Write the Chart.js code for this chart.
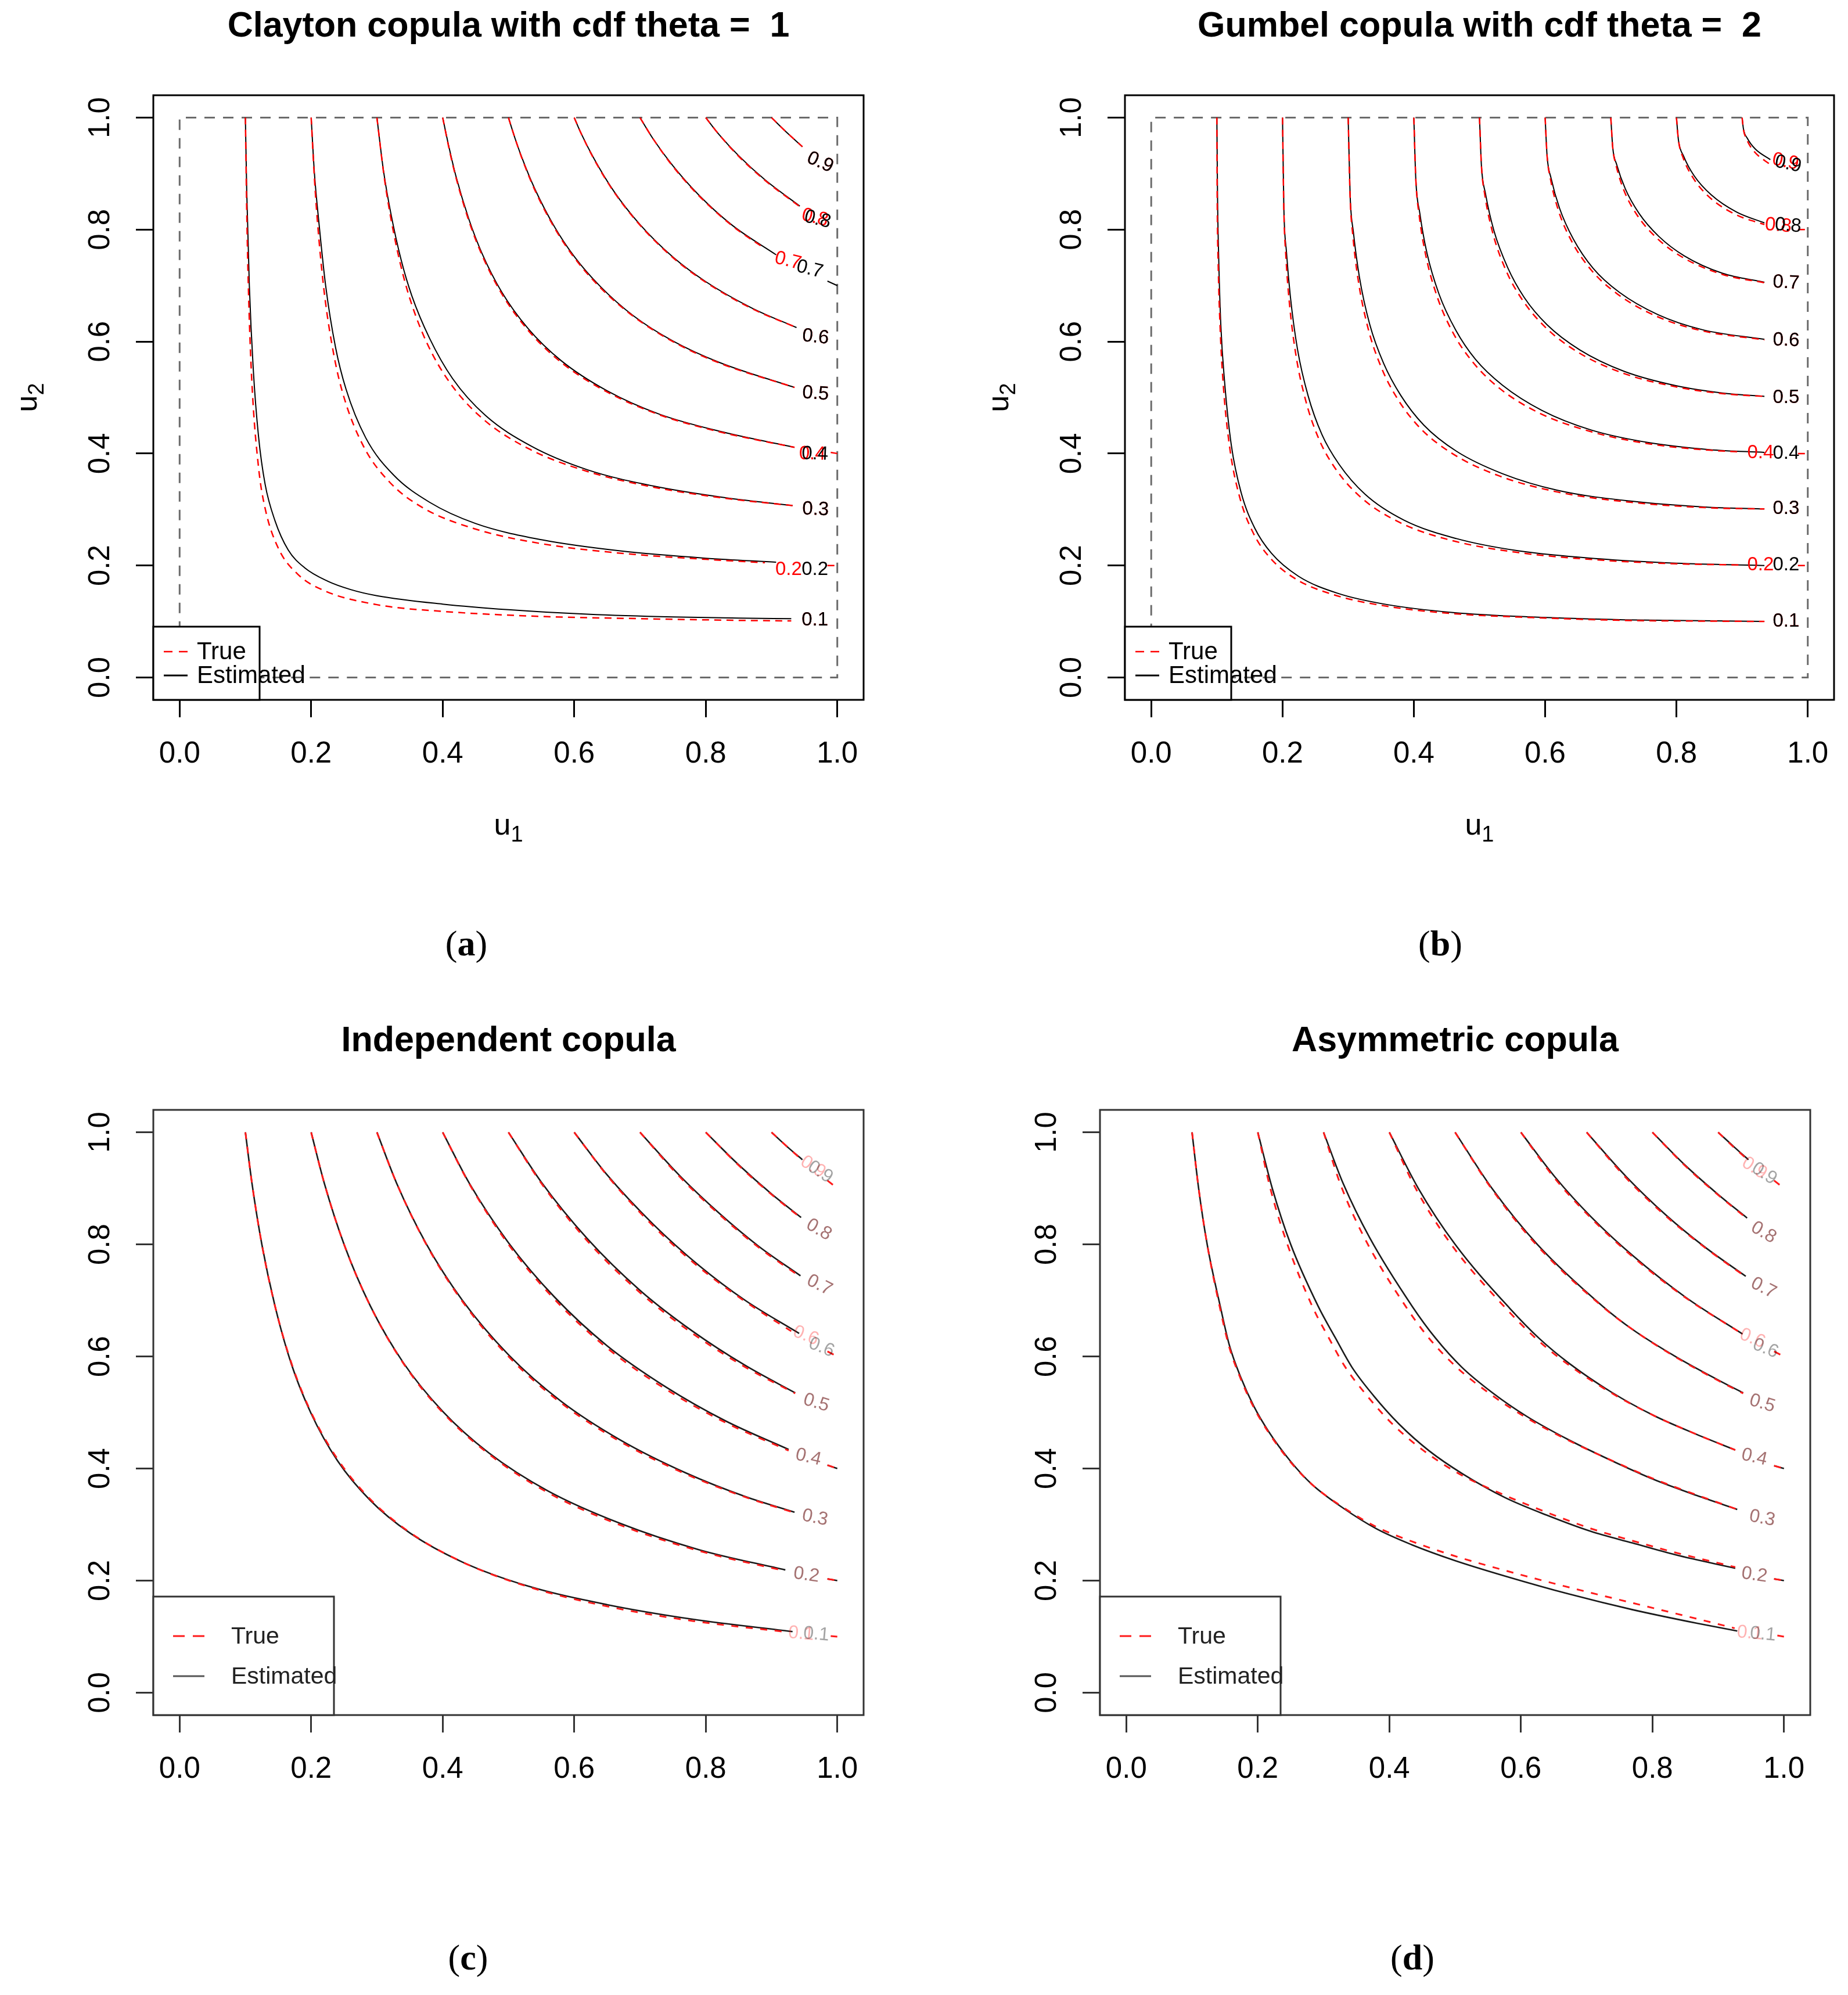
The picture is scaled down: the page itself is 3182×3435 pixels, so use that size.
<!DOCTYPE html>
<html><head><meta charset="utf-8">
<script src="https://cdn.jsdelivr.net/npm/chart.js@4.4.1/dist/chart.umd.min.js"></script>
<style>
html,body{margin:0;padding:0;background:#fff;}
body{width:3182px;height:3435px;position:relative;overflow:hidden;}
canvas{position:absolute;}
.cap{position:absolute;font-family:"Liberation Serif","DejaVu Serif",serif;font-size:62px;color:#000;transform:translate(-50%,-50%);white-space:nowrap;}
</style></head><body>
<canvas id="ca"></canvas><canvas id="cb"></canvas><canvas id="cc"></canvas><canvas id="cd"></canvas>
<div class="cap" style="left:803px;top:1624px">(<b>a</b>)</div>
<div class="cap" style="left:2480px;top:1624px">(<b>b</b>)</div>
<div class="cap" style="left:806px;top:3370px">(<b>c</b>)</div>
<div class="cap" style="left:2432px;top:3370px">(<b>d</b>)</div>
<script>
// ---------- data ----------
const levels = ['0.1','0.2','0.3','0.4','0.5','0.6','0.7','0.8','0.9'];
const xTickVals = [0,0.2,0.4,0.6,0.8,1.0];
const xTickLabels = ['0.0','0.2','0.4','0.6','0.8','1.0'];
const yTickVals = [0,0.2,0.4,0.6,0.8,1.0];
const yTickLabels = ['0.0','0.2','0.4','0.6','0.8','1.0'];
const unitSquare = [[0,0],[1,0],[1,1],[0,1],[0,0]];

// (a) Clayton copula, theta = 1
const clayTrue = [
 [[0.1,1],[0.102,0.836],[0.105,0.677],[0.11,0.524],[0.12,0.375],[0.13,0.302],[0.15,0.231],[0.18,0.184],[0.22,0.155],[0.3,0.13],[0.4,0.118],[0.55,0.109],[0.7,0.105],[0.85,0.102],[0.93,0.101]],
 [[0.2,1],[0.205,0.891],[0.21,0.808],[0.22,0.687],[0.235,0.573],[0.25,0.5],[0.28,0.412],[0.32,0.348],[0.37,0.303],[0.45,0.265],[0.55,0.239],[0.67,0.222],[0.8,0.211],[0.89,0.205],null,[0.985,0.2],[1,0.2]],
 [[0.3,1],[0.31,0.903],[0.32,0.828],[0.335,0.742],[0.35,0.677],[0.375,0.6],[0.41,0.528],[0.46,0.463],[0.53,0.409],[0.62,0.368],[0.72,0.34],[0.83,0.32],[0.932,0.307]],
 [[0.4,1],[0.41,0.943],[0.42,0.894],[0.44,0.815],[0.46,0.754],[0.49,0.685],[0.53,0.62],[0.58,0.563],[0.65,0.51],[0.73,0.469],[0.82,0.439],[0.935,0.411],null,[0.99,0.402],[1,0.4]],
 [[0.5,1],[0.51,0.963],[0.52,0.929],[0.54,0.871],[0.57,0.803],[0.6,0.75],[0.64,0.696],[0.69,0.645],[0.75,0.6],[0.82,0.562],[0.935,0.518]],
 [[0.6,1],[0.61,0.973],[0.63,0.926],[0.66,0.868],[0.7,0.808],[0.75,0.75],[0.8,0.706],[0.87,0.659],[0.938,0.625]],
 [[0.7,1],[0.72,0.962],[0.75,0.913],[0.79,0.86],[0.84,0.807],[0.89,0.766]],
 [[0.8,1],[0.82,0.97],[0.85,0.931],[0.89,0.888],[0.943,0.841]],
 [[0.9,1],[0.92,0.977],[0.947,0.948]]
];
const clayEst = [
 [[0.1,1],[0.102,0.87],[0.106,0.7],[0.112,0.55],[0.12,0.43],[0.13,0.345],[0.145,0.28],[0.165,0.228],[0.19,0.196],[0.225,0.172],[0.26,0.157],[0.3,0.146],[0.4,0.131],[0.5,0.121],[0.62,0.113],[0.75,0.108],[0.85,0.106],[0.93,0.105]],
 [[0.2,1],[0.205,0.9],[0.212,0.81],[0.222,0.7],[0.237,0.59],[0.253,0.515],[0.283,0.428],[0.325,0.362],[0.38,0.313],[0.45,0.275],[0.55,0.246],[0.67,0.226],[0.8,0.213],[0.907,0.206]],
 [[0.3,1],[0.31,0.905],[0.321,0.83],[0.337,0.745],[0.353,0.682],[0.38,0.606],[0.415,0.534],[0.465,0.468],[0.535,0.413],[0.62,0.371],[0.72,0.342],[0.83,0.321],[0.932,0.307]],
 [[0.4,1],[0.41,0.945],[0.42,0.896],[0.44,0.818],[0.46,0.757],[0.49,0.688],[0.53,0.623],[0.58,0.566],[0.65,0.512],[0.73,0.47],[0.82,0.44],[0.935,0.411]],
 [[0.5,1],[0.51,0.963],[0.52,0.93],[0.54,0.873],[0.57,0.805],[0.6,0.752],[0.64,0.698],[0.69,0.646],[0.75,0.601],[0.82,0.563],[0.935,0.518]],
 [[0.6,1],[0.61,0.973],[0.63,0.927],[0.66,0.869],[0.7,0.809],[0.75,0.751],[0.8,0.707],[0.87,0.66],[0.938,0.625]],
 [[0.7,1],[0.72,0.962],[0.75,0.914],[0.79,0.861],[0.84,0.808],[0.907,0.755],null,[0.985,0.708],[1,0.7]],
 [[0.8,1],[0.82,0.97],[0.85,0.932],[0.89,0.889],[0.943,0.842]],
 [[0.9,1],[0.92,0.977],[0.947,0.948]]
];
const clayLabEst  = [[0.966,0.102],[0.966,0.193],[0.967,0.3],[0.966,0.399],[0.967,0.507],[0.967,0.608],[0.958,0.729],[0.97,0.818],[0.974,0.92]];
const clayLabTrue = [[0.966,0.102],[0.926,0.193],[0.967,0.3],[0.962,0.399],[0.967,0.507],[0.967,0.608],[0.925,0.744],[0.966,0.821],[0.974,0.92]];

// (b) Gumbel copula, theta = 2
const gumTrue = [
 [[0.1,1],[0.1005,0.86],[0.102,0.74],[0.105,0.624],[0.11,0.519],[0.12,0.407],[0.135,0.321],[0.155,0.259],[0.18,0.215],[0.22,0.176],[0.28,0.147],[0.36,0.127],[0.46,0.114],[0.58,0.107],[0.72,0.102],[0.86,0.1005],[0.934,0.1]],
 [[0.2,1],[0.202,0.836],[0.205,0.755],[0.21,0.675],[0.22,0.579],[0.235,0.496],[0.255,0.427],[0.28,0.374],[0.32,0.321],[0.38,0.276],[0.46,0.244],[0.56,0.223],[0.68,0.21],[0.8,0.203],[0.895,0.201],null,[0.985,0.2],[1,0.2]],
 [[0.3,1],[0.303,0.857],[0.307,0.791],[0.315,0.712],[0.33,0.625],[0.35,0.555],[0.375,0.498],[0.41,0.445],[0.46,0.399],[0.53,0.36],[0.62,0.331],[0.73,0.313],[0.85,0.303],[0.934,0.301]],
 [[0.4,1],[0.403,0.89],[0.408,0.827],[0.418,0.755],[0.435,0.682],[0.46,0.615],[0.49,0.563],[0.53,0.517],[0.59,0.473],[0.67,0.439],[0.76,0.417],[0.85,0.406],[0.895,0.403],null,[0.985,0.4],[1,0.4]],
 [[0.5,1],[0.503,0.913],[0.508,0.863],[0.52,0.795],[0.54,0.728],[0.565,0.675],[0.6,0.626],[0.65,0.581],[0.72,0.543],[0.8,0.519],[0.87,0.507],[0.934,0.502]],
 [[0.6,1],[0.603,0.931],[0.608,0.891],[0.62,0.835],[0.64,0.78],[0.67,0.728],[0.71,0.685],[0.77,0.645],[0.84,0.619],[0.934,0.603]],
 [[0.7,1],[0.703,0.946],[0.708,0.915],[0.72,0.87],[0.74,0.826],[0.77,0.785],[0.81,0.75],[0.87,0.72],[0.934,0.705]],
 [[0.8,1],[0.803,0.96],[0.81,0.929],[0.825,0.893],[0.85,0.858],[0.89,0.827],[0.934,0.809],null,[0.985,0.8],[1,0.8]],
 [[0.9,1],[0.902,0.979],[0.907,0.961],[0.918,0.94],[0.943,0.916]]
];
const gumEst = [
 [[0.1,1],[0.101,0.86],[0.103,0.74],[0.106,0.63],[0.112,0.525],[0.122,0.415],[0.137,0.33],[0.158,0.266],[0.183,0.222],[0.224,0.181],[0.285,0.15],[0.36,0.13],[0.46,0.116],[0.58,0.108],[0.72,0.103],[0.86,0.101],[0.934,0.1]],
 [[0.2,1],[0.202,0.84],[0.206,0.76],[0.212,0.68],[0.223,0.585],[0.239,0.503],[0.26,0.434],[0.286,0.381],[0.326,0.327],[0.385,0.281],[0.465,0.248],[0.56,0.226],[0.68,0.212],[0.8,0.204],[0.934,0.2]],
 [[0.3,1],[0.303,0.86],[0.308,0.795],[0.317,0.716],[0.333,0.63],[0.354,0.561],[0.38,0.504],[0.415,0.451],[0.465,0.404],[0.535,0.364],[0.62,0.334],[0.73,0.315],[0.85,0.304],[0.934,0.301]],
 [[0.4,1],[0.403,0.89],[0.409,0.83],[0.42,0.758],[0.438,0.686],[0.464,0.62],[0.494,0.568],[0.535,0.522],[0.595,0.477],[0.67,0.442],[0.76,0.419],[0.85,0.407],[0.934,0.402]],
 [[0.5,1],[0.503,0.913],[0.509,0.865],[0.522,0.798],[0.543,0.732],[0.568,0.679],[0.603,0.63],[0.653,0.585],[0.72,0.547],[0.8,0.521],[0.87,0.508],[0.934,0.502]],
 [[0.6,1],[0.603,0.931],[0.609,0.892],[0.622,0.838],[0.643,0.783],[0.673,0.731],[0.713,0.688],[0.772,0.648],[0.84,0.621],[0.934,0.604]],
 [[0.7,1],[0.703,0.946],[0.709,0.916],[0.722,0.873],[0.743,0.829],[0.773,0.788],[0.812,0.753],[0.87,0.722],[0.934,0.706]],
 [[0.8,1],[0.803,0.96],[0.811,0.931],[0.827,0.896],[0.853,0.862],[0.892,0.831],[0.934,0.812]],
 [[0.9,1],[0.902,0.98],[0.908,0.963],[0.92,0.944],[0.943,0.925]]
];
const gumLabEst  = [[0.967,0.1],[0.967,0.201],[0.967,0.301],[0.967,0.4],[0.967,0.5],[0.967,0.602],[0.967,0.705],[0.97,0.807],[0.97,0.917]];
const gumLabTrue = [[0.967,0.1],[0.928,0.201],[0.967,0.301],[0.928,0.401],[0.967,0.5],[0.967,0.602],[0.967,0.705],[0.955,0.807],[0.966,0.921]];

// (c) Independent copula
const indTrue = [
 [[0.1,1],[0.11,0.909],[0.125,0.8],[0.145,0.69],[0.17,0.588],[0.2,0.5],[0.24,0.417],[0.29,0.345],[0.35,0.286],[0.43,0.233],[0.53,0.189],[0.65,0.154],[0.78,0.128],[0.925,0.108],null,[0.99,0.101],[1,0.1]],
 [[0.2,1],[0.22,0.909],[0.25,0.8],[0.29,0.69],[0.34,0.588],[0.4,0.5],[0.47,0.426],[0.56,0.357],[0.67,0.299],[0.79,0.253],[0.921,0.217],null,[0.985,0.203],[1,0.2]],
 [[0.3,1],[0.33,0.909],[0.375,0.8],[0.43,0.698],[0.5,0.6],[0.58,0.517],[0.67,0.448],[0.77,0.39],[0.86,0.349],[0.935,0.321]],
 [[0.4,1],[0.44,0.909],[0.5,0.8],[0.57,0.702],[0.65,0.615],[0.74,0.541],[0.83,0.482],[0.926,0.432],null,[0.985,0.406],[1,0.4]],
 [[0.5,1],[0.55,0.909],[0.62,0.806],[0.7,0.714],[0.78,0.641],[0.86,0.581],[0.936,0.534]],
 [[0.6,1],[0.65,0.923],[0.72,0.833],[0.79,0.759],[0.86,0.698],[0.93,0.645],null,[0.985,0.609],[1,0.6]],
 [[0.7,1],[0.76,0.921],[0.82,0.854],[0.88,0.795],[0.944,0.742]],
 [[0.8,1],[0.85,0.941],[0.9,0.889],[0.945,0.847]],
 [[0.9,1],[0.925,0.973],[0.945,0.952],null,[0.985,0.914],[1,0.9]]
];
const indEst = [
 [[0.1,1],[0.11,0.909],[0.125,0.8],[0.145,0.69],[0.17,0.586],[0.2,0.498],[0.24,0.414],[0.29,0.343],[0.35,0.285],[0.43,0.233],[0.53,0.19],[0.65,0.157],[0.78,0.131],[0.932,0.109]],
 [[0.2,1],[0.22,0.909],[0.25,0.8],[0.29,0.69],[0.34,0.589],[0.4,0.502],[0.47,0.428],[0.56,0.36],[0.67,0.302],[0.79,0.255],[0.921,0.219],null,[0.985,0.203],[1,0.2]],
 [[0.3,1],[0.33,0.909],[0.375,0.801],[0.43,0.7],[0.5,0.603],[0.58,0.52],[0.67,0.451],[0.77,0.392],[0.86,0.35],[0.935,0.322]],
 [[0.4,1],[0.44,0.91],[0.5,0.803],[0.57,0.706],[0.65,0.619],[0.74,0.545],[0.83,0.485],[0.926,0.434],null,[0.985,0.406],[1,0.4]],
 [[0.5,1],[0.55,0.911],[0.62,0.81],[0.7,0.718],[0.78,0.645],[0.86,0.584],[0.936,0.535]],
 [[0.6,1],[0.65,0.924],[0.72,0.836],[0.79,0.762],[0.86,0.7],[0.942,0.641]],
 [[0.7,1],[0.76,0.923],[0.82,0.856],[0.88,0.797],[0.944,0.744]],
 [[0.8,1],[0.85,0.942],[0.9,0.89],[0.945,0.848]],
 [[0.9,1],[0.925,0.973],[0.947,0.951]]
];
const indLabEst  = [[0.968,0.104],[0.953,0.21],[0.966,0.312],[0.956,0.42],[0.968,0.517],[0.976,0.616],[0.973,0.727],[0.972,0.826],[0.974,0.929]];
const indLabTrue = [[0.945,0.105],[0.953,0.21],[0.966,0.312],[0.956,0.42],[0.968,0.517],[0.952,0.637],[0.973,0.727],[0.972,0.826],[0.963,0.938]];

// (d) Asymmetric copula
const asyTrue = [
 [[0.1,1],[0.11,0.9],[0.123,0.8],[0.142,0.689],[0.156,0.619],[0.173,0.563],[0.193,0.511],[0.216,0.465],[0.248,0.414],[0.281,0.373],[0.328,0.332],[0.38,0.296],[0.434,0.27],[0.499,0.244],[0.576,0.218],[0.673,0.188],[0.77,0.16],[0.867,0.132],[0.925,0.115],null,[0.99,0.102],[1,0.1]],
 [[0.2,1],[0.219,0.9],[0.245,0.8],[0.283,0.689],[0.308,0.633],[0.333,0.581],[0.366,0.53],[0.405,0.479],[0.452,0.432],[0.507,0.39],[0.576,0.352],[0.641,0.321],[0.706,0.293],[0.77,0.271],[0.835,0.25],[0.926,0.224],null,[0.985,0.203],[1,0.2]],
 [[0.3,1],[0.326,0.906],[0.362,0.812],[0.425,0.689],[0.46,0.633],[0.502,0.581],[0.551,0.535],[0.605,0.493],[0.671,0.451],[0.737,0.415],[0.803,0.381],[0.867,0.353],[0.929,0.327]],
 [[0.4,1],[0.44,0.9],[0.494,0.8],[0.577,0.686],[0.623,0.632],[0.669,0.588],[0.736,0.536],[0.803,0.494],[0.867,0.461],[0.926,0.433],null,[0.985,0.405],[1,0.4]],
 [[0.5,1],[0.555,0.9],[0.623,0.8],[0.724,0.689],[0.77,0.648],[0.835,0.599],[0.9,0.557],[0.938,0.534]],
 [[0.6,1],[0.65,0.92],[0.704,0.85],[0.768,0.78],[0.849,0.706],[0.93,0.645],null,[0.985,0.609],[1,0.6]],
 [[0.7,1],[0.758,0.921],[0.818,0.853],[0.879,0.795],[0.942,0.742]],
 [[0.8,1],[0.849,0.941],[0.899,0.889],[0.944,0.846]],
 [[0.9,1],[0.924,0.973],[0.944,0.952],null,[0.985,0.914],[1,0.9]]
];
const asyEst = [
 [[0.1,1],[0.11,0.9],[0.123,0.8],[0.143,0.689],[0.157,0.619],[0.174,0.563],[0.194,0.511],[0.217,0.465],[0.249,0.414],[0.282,0.372],[0.329,0.33],[0.381,0.292],[0.434,0.264],[0.499,0.236],[0.576,0.208],[0.673,0.176],[0.77,0.148],[0.867,0.124],[0.929,0.11]],
 [[0.2,1],[0.222,0.9],[0.25,0.8],[0.292,0.689],[0.318,0.633],[0.343,0.581],[0.376,0.53],[0.415,0.479],[0.46,0.432],[0.512,0.39],[0.576,0.348],[0.641,0.316],[0.706,0.288],[0.77,0.267],[0.835,0.246],[0.926,0.222],null,[0.985,0.203],[1,0.2]],
 [[0.3,1],[0.33,0.908],[0.37,0.812],[0.435,0.689],[0.47,0.633],[0.51,0.581],[0.557,0.535],[0.609,0.493],[0.673,0.451],[0.738,0.414],[0.803,0.38],[0.867,0.352],[0.929,0.327]],
 [[0.4,1],[0.444,0.9],[0.5,0.8],[0.583,0.686],[0.628,0.632],[0.673,0.588],[0.738,0.536],[0.803,0.494],[0.867,0.461],[0.926,0.433],null,[0.985,0.405],[1,0.4]],
 [[0.5,1],[0.556,0.9],[0.625,0.8],[0.725,0.689],[0.77,0.648],[0.835,0.6],[0.9,0.558],[0.938,0.535]],
 [[0.6,1],[0.652,0.92],[0.706,0.85],[0.77,0.78],[0.85,0.706],[0.937,0.64]],
 [[0.7,1],[0.76,0.921],[0.82,0.853],[0.88,0.795],[0.942,0.743]],
 [[0.8,1],[0.85,0.941],[0.9,0.889],[0.944,0.847]],
 [[0.9,1],[0.925,0.973],[0.946,0.951]]
];
const asyLabEst  = [[0.968,0.104],[0.955,0.21],[0.967,0.311],[0.955,0.42],[0.967,0.516],[0.972,0.614],[0.969,0.722],[0.969,0.821],[0.97,0.926]];
const asyLabTrue = [[0.948,0.106],[0.955,0.21],[0.967,0.311],[0.955,0.42],[0.967,0.516],[0.952,0.632],[0.969,0.722],[0.969,0.821],[0.955,0.936]];

// ---------- styles ----------
const FONT = '"Liberation Sans", Arial, sans-serif';
Chart.defaults.font.family = FONT;
const STYLE_OLD = {
  black:'#000000', blackW:2, red:'#ff0000', redW:2.5, dash:[12,9], frame:'#000000',
  labFont:'33px '+FONT, labTrueColor:'#ff0000', labEstColor:'#000000',
  leg:{w:183,h:126,s0:18,s1:59,ty:83,ey:42,tx:75,dy:1,font:'42px '+FONT,text:'#000',estColor:'#000',estW:3,dash:[15,11]}
};
const STYLE_NEW = {
  black:'#1a1a1a', blackW:2.6, red:'#ff1a1a', redW:3, dash:[12,13], frame:'#333333',
  labFont:'32px '+FONT, labTrueColor:'rgba(255,0,0,0.3)', labEstColor:'rgba(0,0,0,0.36)',
  leg:{w:311,h:204,s0:34,s1:88,ty:136,ey:67,tx:134,dy:2,font:'41px '+FONT,text:'#222',estColor:'#555',estW:3,dash:[20,14]}
};
const angA = [0,0,2,2,4,6,14,14,24];
const angB = [0,0,0,0,0,2,3,5,12];
const angC = [5,8,11,13,17,22,27,30,33];

const panels = [
 {id:'ca', left:0, top:0, w:1591, h:1717, yW:264, padR:104, padT:164, xH:512, title:'Clayton copula with cdf theta =  1',
  tru:clayTrue, est:clayEst, labTrue:clayLabTrue, labEst:clayLabEst, ang:angA, box:true, axisTitles:true, S:STYLE_OLD},
 {id:'cb', left:1591, top:0, w:1591, h:1717, yW:346, padR:22, padT:164, xH:512, title:'Gumbel copula with cdf theta =  2',
  tru:gumTrue, est:gumEst, labTrue:gumLabTrue, labEst:gumLabEst, ang:angB, box:true, axisTitles:true, S:STYLE_OLD},
 {id:'cc', left:0, top:1717, w:1591, h:1718, yW:264, padR:104, padT:194, xH:482, title:'Independent copula',
  tru:indTrue, est:indEst, labTrue:indLabTrue, labEst:indLabEst, ang:angC, box:false, axisTitles:false, S:STYLE_NEW},
 {id:'cd', left:1591, top:1717, w:1591, h:1718, yW:303, padR:65, padT:194, xH:482, title:'Asymmetric copula',
  tru:asyTrue, est:asyEst, labTrue:asyLabTrue, labEst:asyLabEst, ang:angC, box:false, axisTitles:false, S:STYLE_NEW}
];

function toPts(c){ let px=0; return c.map(p=>{ if(p){px=p[0]; return {x:p[0],y:p[1]};} return {x:px,y:null}; }); }

function subText(ctx, main, sub, x, y, rot){
  ctx.save(); ctx.translate(x,y); ctx.rotate(rot);
  ctx.font='52px '+FONT; const w1=ctx.measureText(main).width;
  ctx.font='38px '+FONT; const w2=ctx.measureText(sub).width;
  const x0=-(w1+w2)/2;
  ctx.fillStyle='#000'; ctx.textAlign='left'; ctx.textBaseline='alphabetic';
  ctx.font='52px '+FONT; ctx.fillText(main,x0,0);
  ctx.font='38px '+FONT; ctx.fillText(sub,x0+w1,12);
  ctx.restore();
}

function makeDecor(P){
  const S=P.S;
  return {
    id:'decor_'+P.id,
    afterDatasetsDraw(chart){
      const ctx=chart.ctx, xs=chart.scales.x, ys=chart.scales.y;
      const draw=(pos,color,i)=>{
        const px=xs.getPixelForValue(pos[0]), py=ys.getPixelForValue(pos[1]);
        ctx.save(); ctx.translate(px,py); ctx.rotate(P.ang[i]*Math.PI/180);
        ctx.font=S.labFont; ctx.textAlign='center'; ctx.textBaseline='middle';
        ctx.fillStyle=color; ctx.fillText(levels[i],0,0); ctx.restore();
      };
      P.labTrue.forEach((p,i)=>draw(p,S.labTrueColor,i));
      P.labEst.forEach((p,i)=>draw(p,S.labEstColor,i));
    },
    afterDraw(chart){
      const ctx=chart.ctx, a=chart.chartArea, xs=chart.scales.x, ys=chart.scales.y;
      ctx.save();
      ctx.strokeStyle=S.frame; ctx.lineWidth=3; ctx.setLineDash([]);
      ctx.strokeRect(a.left,a.top,a.right-a.left,a.bottom-a.top);
      ctx.fillStyle='#000'; ctx.font='bold 61px '+FONT; ctx.textAlign='center'; ctx.textBaseline='alphabetic';
      ctx.fillText(P.title,(a.left+a.right)/2,a.top-101);
      ctx.restore();
      if(P.axisTitles){
        subText(ctx,'u','1',xs.getPixelForValue(0.5),a.bottom+232,0);
        subText(ctx,'u','2',a.left-201,ys.getPixelForValue(0.5),-Math.PI/2);
      }
      const L=S.leg, x0=a.left, yb=a.bottom, y0=a.bottom-L.h;
      ctx.save();
      ctx.fillStyle='#fff'; ctx.fillRect(x0,y0,L.w,L.h);
      ctx.strokeStyle=S.frame; ctx.lineWidth=3; ctx.strokeRect(x0,y0,L.w,L.h);
      ctx.strokeStyle=S.red; ctx.lineWidth=S.redW; ctx.setLineDash(L.dash);
      ctx.beginPath(); ctx.moveTo(x0+L.s0,yb-L.ty); ctx.lineTo(x0+L.s1,yb-L.ty); ctx.stroke();
      ctx.setLineDash([]); ctx.strokeStyle=L.estColor; ctx.lineWidth=L.estW;
      ctx.beginPath(); ctx.moveTo(x0+L.s0,yb-L.ey); ctx.lineTo(x0+L.s1,yb-L.ey); ctx.stroke();
      ctx.fillStyle=L.text; ctx.font=L.font; ctx.textAlign='left'; ctx.textBaseline='middle';
      ctx.fillText('True',x0+L.tx,yb-L.ty+L.dy);
      ctx.fillText('Estimated',x0+L.tx,yb-L.ey+L.dy);
      ctx.restore();
    }
  };
}

panels.forEach(P=>{
  const S=P.S;
  const cv=document.getElementById(P.id);
  cv.width=P.w; cv.height=P.h; cv.style.left=P.left+'px'; cv.style.top=P.top+'px';
  cv.style.width=P.w+'px'; cv.style.height=P.h+'px';
  const datasets=[];
  P.tru.forEach((c,i)=>datasets.push({label:'True '+levels[i], data:toPts(c), showLine:true, pointRadius:0,
    borderColor:S.red, borderWidth:S.redW, borderDash:S.dash, cubicInterpolationMode:'monotone', fill:false, order:0}));
  P.est.forEach((c,i)=>datasets.push({label:'Estimated '+levels[i], data:toPts(c), showLine:true, pointRadius:0,
    borderColor:S.black, borderWidth:S.blackW, cubicInterpolationMode:'monotone', fill:false, order:1}));
  if(P.box) datasets.push({label:'unit square', data:toPts(unitSquare), showLine:true, pointRadius:0,
    borderColor:'#6b6b6b', borderWidth:3, borderDash:[18,14], tension:0, fill:false, order:2});
  const tickFont={size:51,family:FONT};
  new Chart(cv,{
    type:'scatter',
    data:{datasets},
    options:{
      responsive:false, animation:false, devicePixelRatio:1, events:[],
      layout:{padding:{left:0,right:P.padR,top:P.padT,bottom:0}},
      plugins:{legend:{display:false},tooltip:{enabled:false},title:{display:false}},
      scales:{
        x:{type:'linear',position:'bottom',min:-0.04,max:1.04,
          afterBuildTicks:s=>{s.ticks=xTickVals.map(v=>({value:v}));},
          afterFit:s=>{s.height=P.xH;},
          ticks:{callback:(v,i)=>xTickLabels[i],font:tickFont,color:'#000',padding:33,autoSkip:false,maxRotation:0,minRotation:0},
          grid:{display:true,drawOnChartArea:false,drawTicks:true,tickLength:30,tickWidth:3,tickColor:S.frame},
          border:{display:false}},
        y:{type:'linear',position:'left',min:-0.04,max:1.04,
          afterBuildTicks:s=>{s.ticks=yTickVals.map(v=>({value:v}));},
          afterFit:s=>{s.width=P.yW;},
          ticks:{callback:(v,i)=>yTickLabels[i],font:tickFont,color:'#000',padding:25,autoSkip:false,minRotation:90,maxRotation:90,crossAlign:'center'},
          grid:{display:true,drawOnChartArea:false,drawTicks:true,tickLength:30,tickWidth:3,tickColor:S.frame},
          border:{display:false}}
      }
    },
    plugins:[makeDecor(P)]
  });
});
</script>
</body></html>
